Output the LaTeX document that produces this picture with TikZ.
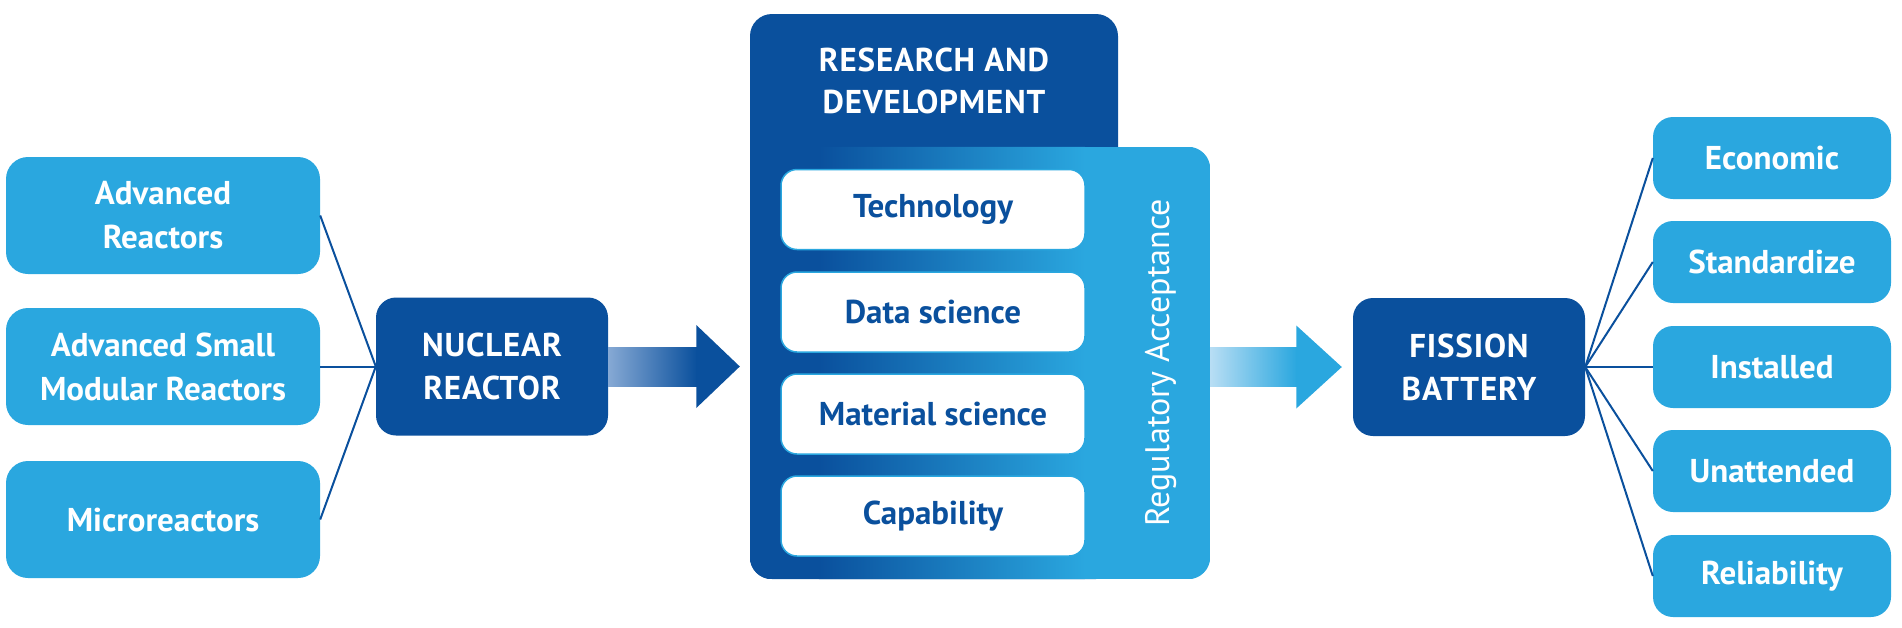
\documentclass[tikz,border=0pt]{standalone}
\usepackage{fontspec}
\setmainfont{PT Sans}
\newfontfamily\hdfont[LetterSpace=2.5]{PT Sans}
\usetikzlibrary{calc}
\definecolor{dkb}{HTML}{0A509D}
\definecolor{ltb}{HTML}{2AA7DF}
\definecolor{pale}{HTML}{B8DEF4}
\definecolor{arrl}{HTML}{86A9D4}
\begin{document}
\begin{tikzpicture}[x=1pt,y=-1pt,
  lbox/.style={fill=ltb, rounded corners=22pt, text=white, align=center, inner sep=0pt,
    font=\bfseries\fontsize{33}{44}\selectfont},
  rbox/.style={fill=ltb, rounded corners=20pt, text=white, align=center, inner sep=0pt,
    minimum width=238pt, minimum height=82pt, font=\bfseries\fontsize{33}{44}\selectfont},
  hub/.style={fill=dkb, rounded corners=20pt, text=white, align=center, inner sep=0pt,
    minimum width=232pt, minimum height=138pt, font=\hdfont\bfseries\fontsize{33}{43}\selectfont},
  wbox/.style={fill=white, draw=ltb, line width=1.5pt, rounded corners=16pt, text=dkb, align=center,
    inner sep=0pt, minimum width=304pt, minimum height=80pt, font=\bfseries\fontsize{33}{38}\selectfont},
  conn/.style={draw=dkb, line width=2pt}]
\useasboundingbox (0,0) rectangle (1902,627);

% left boxes
\node[lbox, minimum width=314pt, minimum height=117pt] (ar) at (163,215.5) {Advanced\\Reactors};
\node[lbox, minimum width=314pt, minimum height=117pt] (asmr) at (163,366.5) {Advanced Small\\Modular Reactors};
\node[lbox, minimum width=314pt, minimum height=117pt] (mr) at (163,519.5) {Microreactors};

\node[hub] (nr) at (492,366.5) {NUCLEAR\\REACTOR};

\draw[conn] (ar.east) -- (nr.west);
\draw[conn] (asmr.east) -- (nr.west);
\draw[conn] (mr.east) -- (nr.west);

% R&D block
\node[fill=dkb, rounded corners=22pt, minimum width=368pt, minimum height=565pt, inner sep=0pt] (rd) at (934,296.5) {};
\node[inner sep=0pt, minimum width=460pt, minimum height=432pt] (reg) at (980,363) {};
\begin{scope}
  \clip[rounded corners=22pt] (reg.north west) -- (reg.north east) -- (reg.south east) -- (reg.south west) -- cycle;
  \fill[dkb] (reg.north west) rectangle ($(reg.south west)+(70,0)$);
  \shade[left color=dkb, right color=ltb] ($(reg.north west)+(69,0)$) rectangle ($(reg.south west)+(335,0)$);
  \fill[ltb] ($(reg.north west)+(334,0)$) rectangle (reg.south east);
\end{scope}
\node[text=white, align=center, font=\hdfont\bfseries\fontsize{33}{42}\selectfont] (rdt) at (934,81) {RESEARCH AND\\DEVELOPMENT};

\node[wbox] (tech) at (933,209.5) {Technology};
\node[wbox] (data) at (933,312) {Data science};
\node[wbox] (mat) at (933,414) {Material science};
\node[wbox] (cap) at (933,516) {Capability};

\node[rotate=90, text=white, font=\fontsize{34}{38}\selectfont] (regt) at (1161,363) {Regulatory Acceptance};

% arrow 1
\coordinate (a1b) at (nr.east);
\coordinate (a1t) at ($(nr.east -| rd.west)+(-10,0)$);
\shade[left color=arrl, right color=dkb] ($(a1b)+(0,-19.5)$) rectangle ($(a1t)+(-43,19.5)$);
\fill[dkb] ($(a1t)+(-43.5,-41.5)$) -- (a1t) -- ($(a1t)+(-43.5,41.5)$) -- cycle;

% right hub
\node[hub] (fb) at (1469,367) {FISSION\\BATTERY};

% arrow 2
\coordinate (a2b) at (reg.east |- fb.west);
\coordinate (a2t) at ($(fb.west)+(-11,0)$);
\shade[left color=pale, right color=ltb] ($(a2b)+(0,-19.5)$) rectangle ($(a2t)+(-45,19.5)$);
\fill[ltb] ($(a2t)+(-45.5,-41.5)$) -- (a2t) -- ($(a2t)+(-45.5,41.5)$) -- cycle;

% right boxes
\node[rbox] (eco) at (1772,158) {Economic};
\node[rbox] (std) at (1772,262) {Standardize};
\node[rbox] (ins) at (1772,367) {Installed};
\node[rbox] (una) at (1772,471) {Unattended};
\node[rbox] (rel) at (1772,576) {Reliability};

\foreach \b in {eco,std,ins,una,rel} \draw[conn] (fb.east) -- (\b.west);
\end{tikzpicture}
\end{document}
